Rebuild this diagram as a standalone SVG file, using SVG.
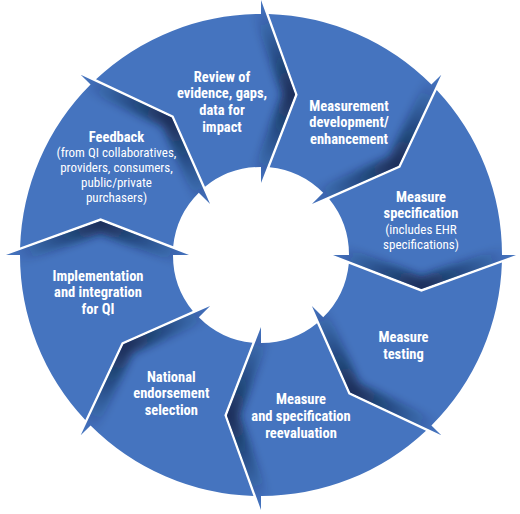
<svg xmlns="http://www.w3.org/2000/svg" xmlns:xlink="http://www.w3.org/1999/xlink" width="520" height="514" viewBox="0 0 520 514">
<style>
.seg { fill: #4574bf; }
.t { font-family: "Liberation Sans Narrow", "Roboto Condensed", "DejaVu Sans Condensed", "Liberation Sans", sans-serif; fill: #ffffff; text-anchor: middle; }
.b { font-weight: bold; font-size: 14.5px; }
.r { font-weight: normal; font-size: 13px; }
</style>
<defs>
<filter id="blur" filterUnits="userSpaceOnUse" x="-300" y="-300" width="1120" height="1120"><feGaussianBlur stdDeviation="4"/></filter>
<radialGradient id="shade" gradientUnits="userSpaceOnUse" cx="295.1" cy="94.6" r="95">
<stop offset="0" stop-color="#0b1d3d" stop-opacity="0.8"/>
<stop offset="1" stop-color="#0b1d3d" stop-opacity="0"/>
</radialGradient>
<clipPath id="segClip"><path d="M96.0 79.3 A241 241 0 0 1 261 14 L261 0 L295.1 94.6 L261 183 L261 167 A88 88 0 0 0 205.0 186.8 L173.5 115.7 Z"/></clipPath>
<g id="seg">
<path class="seg" d="M96.0 79.3 A241 241 0 0 1 261 14 L261 0 L295.1 94.6 L261 183 L261 167 A88 88 0 0 0 205.0 186.8 L173.5 115.7 Z"/>
<polyline clip-path="url(#segClip)" points="261,0 295.1,94.6 261,183" fill="none" stroke="url(#shade)" stroke-width="24" filter="url(#blur)"/>
</g>
</defs>

<g id="node-review">
<use xlink:href="#seg" href="#seg"/>
<text class="t b" x="222"><tspan x="222" y="81.5">Review of</tspan><tspan x="222" y="98.3">evidence, gaps,</tspan><tspan x="222" y="115.1">data for</tspan><tspan x="222" y="131.9">impact</tspan></text>
</g>

<g id="node-measurement-development">
<use xlink:href="#seg" href="#seg" transform="rotate(45 261 255)"/>
<text class="t b"><tspan x="349" y="110.5">Measurement</tspan><tspan x="349" y="127.3">development/</tspan><tspan x="349" y="144.1">enhancement</tspan></text>
</g>

<g id="node-measure-specification">
<use xlink:href="#seg" href="#seg" transform="rotate(90 261 255)"/>
<text class="t"><tspan class="b" x="421" y="201.5">Measure</tspan><tspan class="b" x="421" y="218.3">specification</tspan><tspan class="r" x="421" y="233.5">(includes EHR</tspan><tspan class="r" x="421" y="248.5">specifications)</tspan></text>
</g>

<g id="node-measure-testing">
<use xlink:href="#seg" href="#seg" transform="rotate(135 261 255)"/>
<text class="t b"><tspan x="403.5" y="341.7">Measure</tspan><tspan x="403.5" y="358.5">testing</tspan></text>
</g>

<g id="node-reevaluation">
<use xlink:href="#seg" href="#seg" transform="rotate(180 261 255)"/>
<text class="t b"><tspan x="301" y="404">Measure</tspan><tspan x="301" y="421">and specification</tspan><tspan x="301" y="438">reevaluation</tspan></text>
</g>

<g id="node-national-endorsement">
<use xlink:href="#seg" href="#seg" transform="rotate(225 261 255)"/>
<text class="t b"><tspan x="171.3" y="381.7">National</tspan><tspan x="171.3" y="398.3">endorsement</tspan><tspan x="171.3" y="415">selection</tspan></text>
</g>

<g id="node-implementation">
<use xlink:href="#seg" href="#seg" transform="rotate(270 261 255)"/>
<text class="t b"><tspan x="98" y="280.7">Implementation</tspan><tspan x="98" y="297.3">and integration</tspan><tspan x="98" y="314">for QI</tspan></text>
</g>

<g id="node-feedback">
<use xlink:href="#seg" href="#seg" transform="rotate(315 261 255)"/>
<text class="t"><tspan class="b" x="116.5" y="141.7">Feedback</tspan><tspan class="r" x="116.5" y="156.5">(from QI collaboratives,</tspan><tspan class="r" x="116.5" y="171.8">providers, consumers,</tspan><tspan class="r" x="116.5" y="187">public/private</tspan><tspan class="r" x="116.5" y="201.5">purchasers)</tspan></text>
</g>
</svg>
